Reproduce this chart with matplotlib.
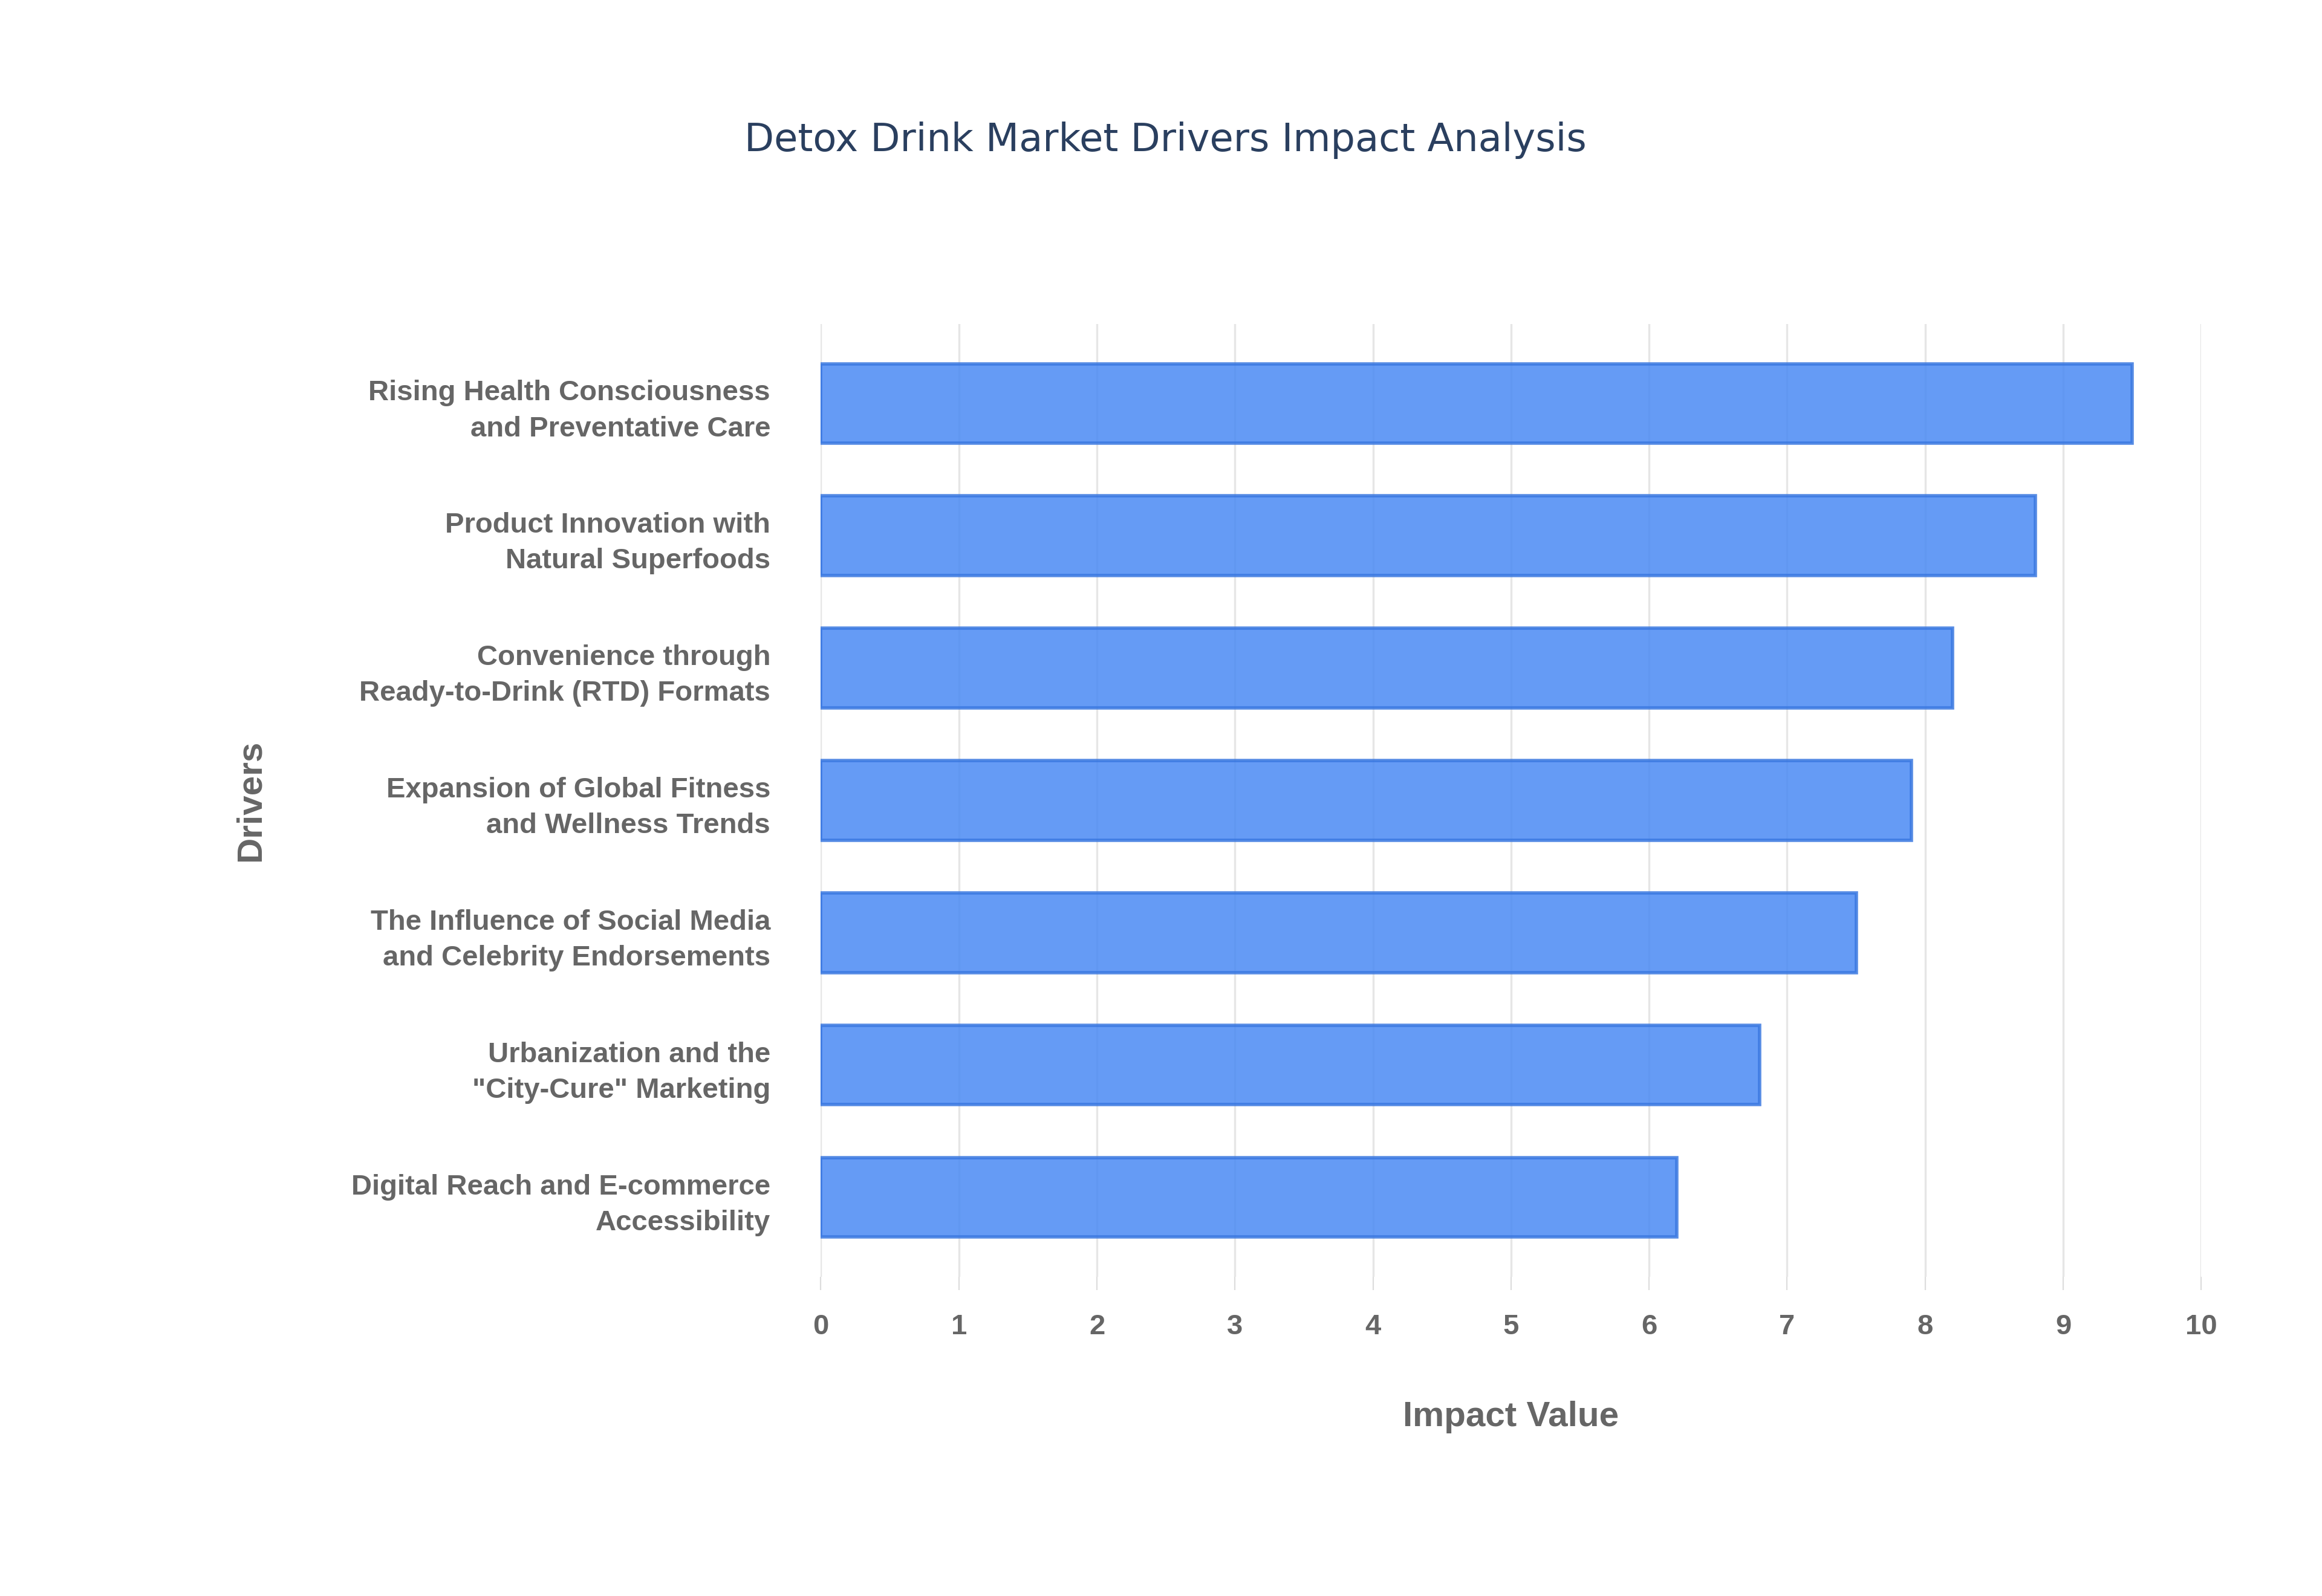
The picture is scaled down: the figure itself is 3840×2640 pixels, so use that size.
import matplotlib
matplotlib.use("Agg")
import matplotlib.pyplot as plt

drivers = ["Rising Health Consciousness\nand Preventative Care",
           "Product Innovation with\nNatural Superfoods",
           "Convenience through\nReady-to-Drink (RTD) Formats",
           "Expansion of Global Fitness\nand Wellness Trends",
           "The Influence of Social Media\nand Celebrity Endorsements",
           "Urbanization and the\n\"City-Cure\" Marketing",
           "Digital Reach and E-commerce\nAccessibility"]
values = [9.5, 8.8, 8.2, 7.9, 7.5, 6.8, 6.2]

fig = plt.figure(figsize=(19.2, 13.2), dpi=200)
ax = fig.add_axes([0.3535, 0.2, 0.5945, 0.597])
pos = list(range(len(drivers)))[::-1]
ax.barh(pos, values, height=0.6, color="#4a8af4", alpha=0.85, edgecolor="#3a78e0", linewidth=2, zorder=3)
ax.set_xlim(0, 10)
ax.set_ylim(-0.6, 6.6)
ax.set_xticks(range(11))
ax.set_yticks(pos)
ax.set_yticklabels(drivers, fontsize=17, fontweight="bold", color="#666666", family="Liberation Sans",
                   linespacing=1.45)
for t in ax.get_xticklabels():
    t.set_fontsize(17); t.set_fontweight("bold"); t.set_color("#666666"); t.set_family("Liberation Sans")
ax.grid(axis="x", color="#e6e6e6", linewidth=1.2, zorder=0)
for s in ["top", "right", "left", "bottom"]:
    ax.spines[s].set_visible(False)
ax.axvline(0, color="#e0e0e0", linewidth=1.5, zorder=1)
ax.tick_params(axis="x", length=8, color="#dddddd", pad=14, direction="out")
ax.tick_params(axis="y", length=0, pad=30)
ax.set_xlabel("Impact Value", fontsize=21, fontweight="bold", color="#666666", family="Liberation Sans", labelpad=36)
ax.set_ylabel("Drivers", fontsize=21, fontweight="bold", color="#666666", family="Liberation Sans", labelpad=50)
fig.text(0.502, 0.912, "Detox Drink Market Drivers Impact Analysis", ha="center", va="center",
         fontsize=23, color="#2a3f5f")
fig.savefig("out.png", dpi=200, facecolor="white")
